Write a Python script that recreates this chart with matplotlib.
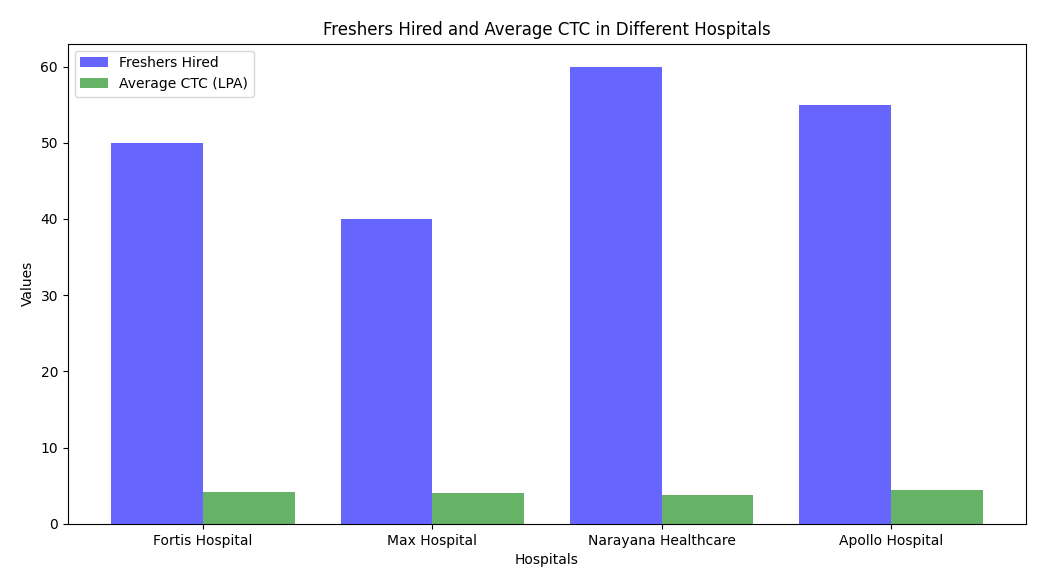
import matplotlib
matplotlib.use("Agg")
import matplotlib.pyplot as plt
import numpy as np

hospitals = ["Fortis Hospital", "Max Hospital", "Narayana Healthcare", "Apollo Hospital"]
freshers = [50, 40, 60, 55]
ctc = [4.2, 4.0, 3.8, 4.5]

fig, ax = plt.subplots(figsize=(10.42, 5.82), dpi=100)
x = np.arange(len(hospitals))
w = 0.4
ax.bar(x - w/2, freshers, w, color="blue", alpha=0.6, label="Freshers Hired")
ax.bar(x + w/2, ctc, w, color="green", alpha=0.6, label="Average CTC (LPA)")
ax.set_xticks(x)
ax.set_xticklabels(hospitals)
ax.set_xlabel("Hospitals")
ax.set_ylabel("Values")
ax.set_title("Freshers Hired and Average CTC in Different Hospitals")
ax.legend(loc="upper left")
fig.subplots_adjust(left=0.065, right=0.985, top=0.925, bottom=0.1)
fig.savefig("out.png")
